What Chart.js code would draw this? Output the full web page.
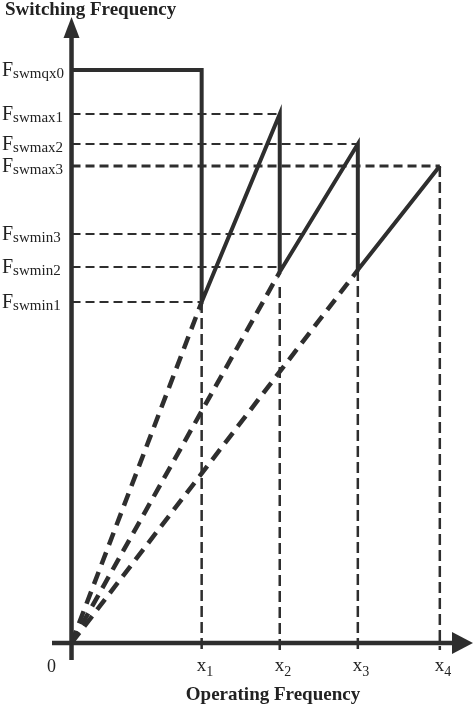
<!DOCTYPE html>
<html>
<head>
<meta charset="utf-8">
<script src="https://cdn.jsdelivr.net/npm/chart.js@4.4.1/dist/chart.umd.min.js"></script>
<style>
  html, body { margin: 0; padding: 0; background: #fff; }
  #wrap { width: 474px; height: 705px; }
</style>
</head>
<body>
<div id="wrap"><canvas id="grafico"></canvas></div>
<script>
// valores (unidades arbitrarias)
const xTicks = [1, 1.6, 2.2, 2.83]
const xTickSubs = ['1', '2', '3', '4']

const fLabels = ['swmqx0', 'swmax1', 'swmax2', 'swmax3', 'swmin3', 'swmin2', 'swmin1']
const fValues = [5.73, 5.29, 4.99, 4.77, 4.09, 3.76, 3.41]
const fGuideEnd = [null, 1.6, 2.2, 2.83, 2.2, 1.6, 1]

const mainX = [0, 1, 1, 1.6, 1.6, 2.2, 2.2, 2.83]
const mainY = [5.73, 5.73, 3.41, 5.29, 3.71, 4.99, 3.73, 4.77]

const rayX = [1, 1.6, 2.2]
const rayY = [3.41, 3.71, 3.73]

const vGuideX = [1, 1.6, 2.2, 2.83]
const vGuideTop = [3.41, 3.56, 3.73, 4.77]

const cor = '#2e2e2e'
const serif = '"Liberation Serif", "DejaVu Serif", serif'

const datasets = []

datasets.push({
  data: mainX.map((x, i) => ({ x: x, y: mainY[i] })),
  borderColor: cor,
  borderWidth: 4,
  borderJoinStyle: 'miter'
})

rayX.forEach((x, i) => {
  datasets.push({
    data: [{ x: 0, y: 0 }, { x: x, y: rayY[i] }],
    borderColor: cor,
    borderWidth: 4.5,
    borderDash: [13, 8]
  })
})

fValues.forEach((v, i) => {
  if (fGuideEnd[i] === null) return
  datasets.push({
    data: [{ x: 0, y: v }, { x: fGuideEnd[i], y: v }],
    borderColor: cor,
    borderWidth: i === 3 ? 3 : 2,
    borderDash: [9, 5]
  })
})

vGuideX.forEach((x, i) => {
  datasets.push({
    data: [{ x: x, y: vGuideTop[i] }, { x: x, y: -0.07 }],
    borderColor: cor,
    borderWidth: 2.5,
    borderDash: [11, 5]
  })
})

datasets.forEach(d => {
  d.showLine = true
  d.pointRadius = 0
  d.fill = false
  d.tension = 0
})

// eixos com setas e textos
const eixosPlugin = {
  id: 'eixos',
  afterDatasetsDraw(chart) {
    const ctx = chart.ctx
    const xs = chart.scales.x
    const ys = chart.scales.y
    const x0 = xs.getPixelForValue(0)
    const y0 = ys.getPixelForValue(0)
    const top = ys.getPixelForValue(ys.max)
    const right = xs.getPixelForValue(xs.max)

    ctx.save()
    ctx.strokeStyle = cor
    ctx.fillStyle = cor
    ctx.lineWidth = 4.5
    ctx.beginPath()
    ctx.moveTo(x0, ys.getPixelForValue(ys.min))
    ctx.lineTo(x0, top + 18)
    ctx.moveTo(xs.getPixelForValue(xs.min), y0)
    ctx.lineTo(right - 18, y0)
    ctx.stroke()

    ctx.beginPath()
    ctx.moveTo(x0, top)
    ctx.lineTo(x0 - 8, top + 21)
    ctx.lineTo(x0 + 8, top + 21)
    ctx.closePath()
    ctx.fill()

    ctx.beginPath()
    ctx.moveTo(right, y0)
    ctx.lineTo(right - 21, y0 - 11)
    ctx.lineTo(right - 21, y0 + 11)
    ctx.closePath()
    ctx.fill()

    ctx.fillStyle = '#222'
    ctx.textBaseline = 'alphabetic'

    // rotulos do eixo y
    fValues.forEach((v, i) => {
      const y = ys.getPixelForValue(v)
      ctx.font = '20px ' + serif
      ctx.textAlign = 'left'
      ctx.fillText('F', 2, y + 6)
      const w = ctx.measureText('F').width
      ctx.font = '15px ' + serif
      ctx.fillText(fLabels[i], 2 + w, y + 8)
    })

    // rotulos do eixo x
    ctx.font = '18px ' + serif
    ctx.textAlign = 'center'
    ctx.fillText('0', x0 - 20, y0 + 29)
    xTicks.forEach((t, i) => {
      const x = xs.getPixelForValue(t)
      ctx.font = '19px ' + serif
      ctx.textAlign = 'left'
      ctx.fillText('x', x - 5, y0 + 28)
      const w = ctx.measureText('x').width
      ctx.font = '14px ' + serif
      ctx.fillText(xTickSubs[i], x - 5 + w, y0 + 33)
    })

    ctx.font = 'bold 19px ' + serif
    ctx.textAlign = 'left'
    ctx.fillText('Switching Frequency', 5, 15)
    ctx.textAlign = 'center'
    ctx.fillText('Operating Frequency', 273, 700)
    ctx.restore()
  }
}

const grafico = new Chart(document.querySelector('#grafico'), {
  type: 'scatter',
  data: { datasets: datasets },
  options: {
    responsive: true,
    maintainAspectRatio: false,
    animation: false,
    layout: { padding: { left: 52, right: 1, top: 17, bottom: 45 } },
    plugins: { legend: { display: false }, tooltip: { enabled: false } },
    scales: {
      x: { type: 'linear', min: -0.15, max: 3.085, display: false },
      y: { type: 'linear', min: -0.17, max: 6.26, display: false }
    }
  },
  plugins: [eixosPlugin]
})
</script>
</body>
</html>
